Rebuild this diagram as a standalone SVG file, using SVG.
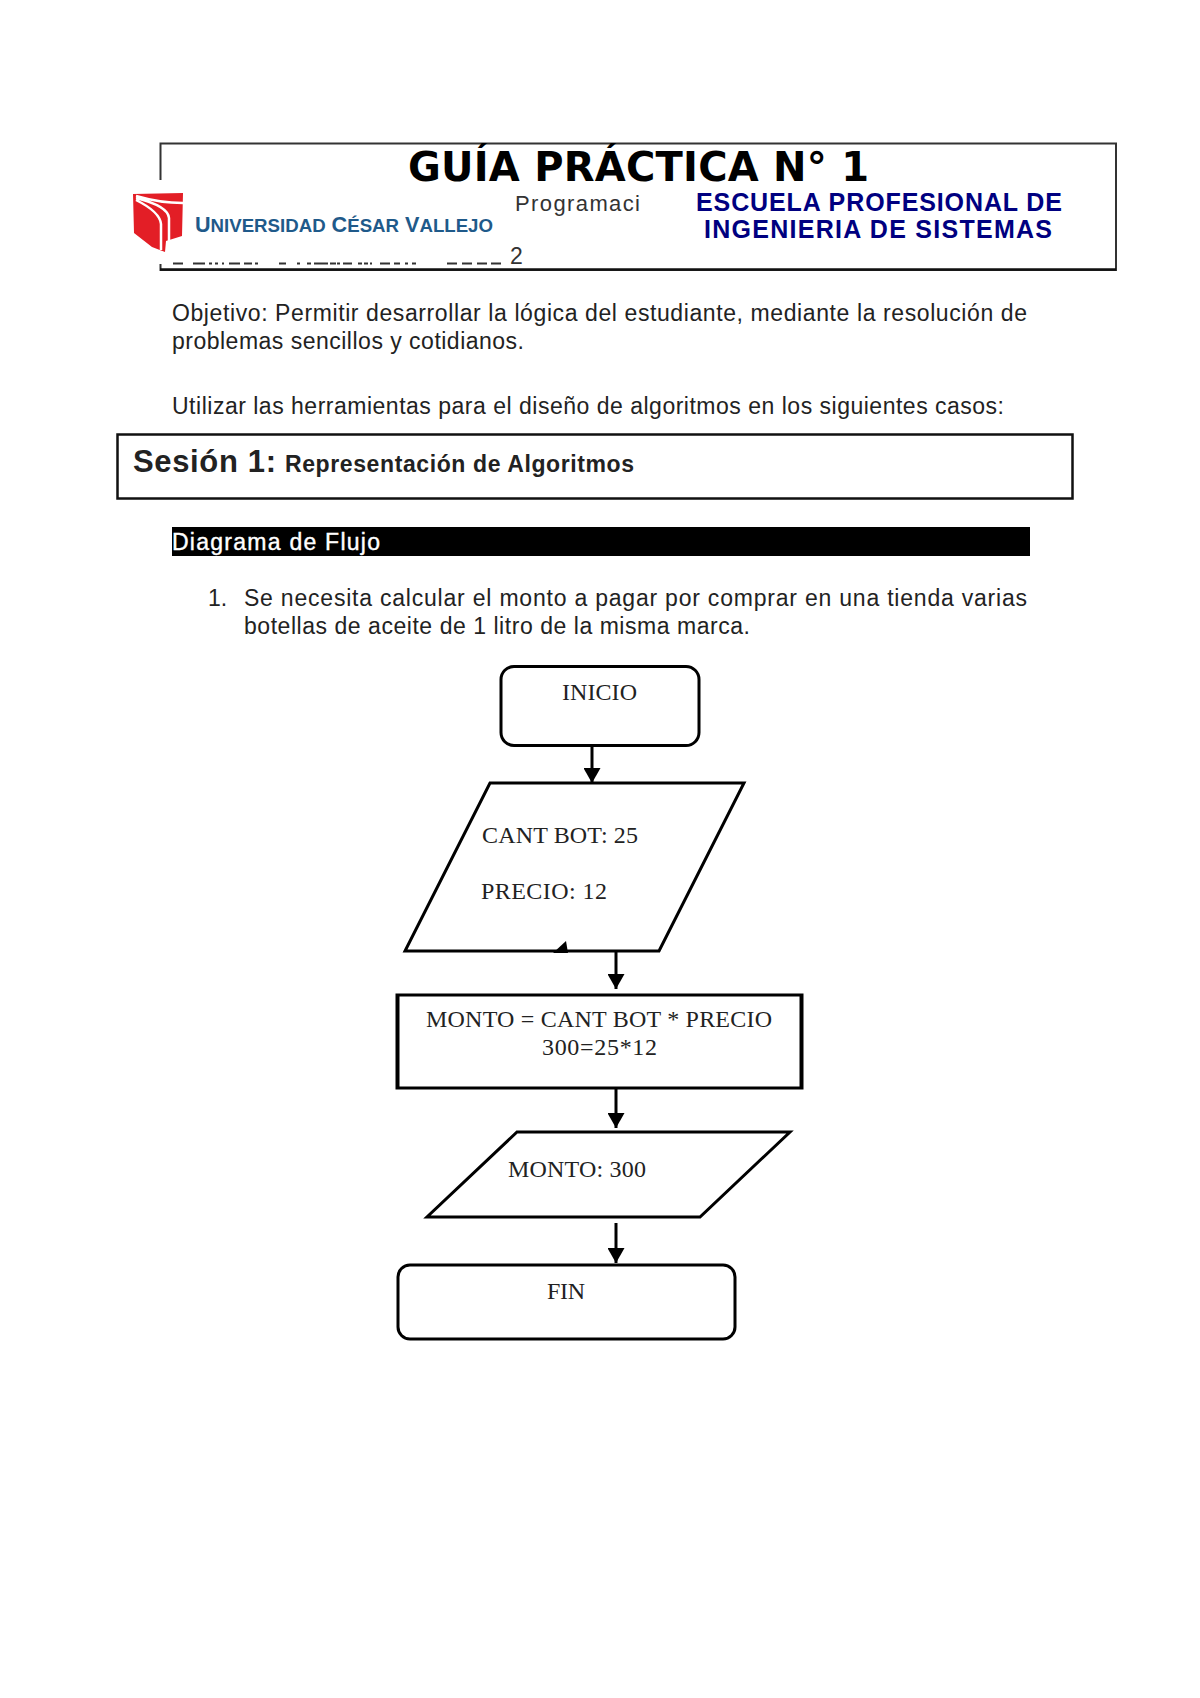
<svg xmlns="http://www.w3.org/2000/svg" width="1200" height="1698" viewBox="0 0 1200 1698">
<style>
.a{font-family:"Liberation Sans",Arial,sans-serif;font-size:23px;fill:#222}
.s{font-family:"Liberation Serif","Times New Roman",serif;font-size:24px;fill:#222}
.n{fill:#fff;stroke:#000;stroke-width:3}
.c{stroke:#000;stroke-width:3;fill:none}
.b{font-family:"Liberation Sans",Arial,sans-serif;font-weight:bold;font-size:25px;fill:#000080}
</style>
<defs><marker id="h" markerUnits="userSpaceOnUse" markerWidth="16" markerHeight="17" refX="15" refY="8.500" orient="auto"><path d="M0 0L15 8.500L0 17Z" fill="#000"/></marker></defs>
<rect width="1200" height="1698" fill="#fff"/>
<g id="header">
<path d="M160.500 180V143.500H1116V270H160.500V264" fill="none" stroke="#333" stroke-width="2"/>
<path d="M160 269.500H1116" stroke="#111" stroke-width="2.500"/>
<text x="408" y="181" textLength="461" style="font-family:'DejaVu Sans',sans-serif;font-weight:bold;font-size:40px;fill:#000">GUÍA PRÁCTICA N° 1</text>
<text x="515" y="211" textLength="125" style="font-family:'Liberation Sans',Arial,sans-serif;font-size:22px;fill:#333">Programaci</text>
<text x="510" y="264" style="font-family:'Liberation Sans',Arial,sans-serif;font-size:23px;fill:#333">2</text>
<path d="M173 263.500H183M193 263.500H205M209 263.500H212M215 263.500H218M222 263.500H224M229 263.500H240M244 263.500H252M255 263.500H258M279 263.500H286M297 263.500H300M307 263.500H311M314 263.500H328M330 263.500H336M337 263.500H340M343 263.500H352M358 263.500H362M364 263.500H368M370 263.500H372M380 263.500H390M394 263.500H400M405 263.500H408M412 263.500H416M447 263.500H457M462 263.500H472M477 263.500H487M491 263.500H501" stroke="#333" stroke-width="2"/>
<text x="696" y="211" textLength="366" class="b">ESCUELA PROFESIONAL DE</text>
<text x="704" y="238" textLength="348" class="b">INGENIERIA DE SISTEMAS</text>
</g>
<g id="logo">
<path d="M133 194L183 193L182 236L166 241L165 252L152 247L134 233Z" fill="#e31e26"/>
<path d="M136 196Q160 203 183 203M136 198Q168 206 169 218L169 247M136 200Q160 212 161 224L161 250" fill="none" stroke="#fff" stroke-width="2.500"/>
<text x="195" y="232" textLength="298" lengthAdjust="spacingAndGlyphs" style="font-family:'Liberation Sans',Arial,sans-serif;font-weight:bold;font-size:22px;fill:#1f5a8a">U<tspan font-size="19">NIVERSIDAD</tspan> C<tspan font-size="19">ÉSAR</tspan> V<tspan font-size="19">ALLEJO</tspan></text>
</g>
<g id="intro">
<text x="172" y="321" textLength="855" class="a">Objetivo: Permitir desarrollar la lógica del estudiante, mediante la resolución de</text>
<text x="172" y="349" textLength="352" class="a">problemas sencillos y cotidianos.</text>
<text x="172" y="414" textLength="832" class="a">Utilizar las herramientas para el diseño de algoritmos en los siguientes casos:</text>
</g>
<g id="sesion">
<rect x="117.500" y="434.500" width="955" height="64" fill="#fff" stroke="#111" stroke-width="2.500"/>
<text x="133" y="472" textLength="143" style="font-family:'Liberation Sans',Arial,sans-serif;font-weight:bold;font-size:31px;fill:#222">Sesión 1:</text>
<text x="285" y="472" textLength="349" style="font-family:'Liberation Sans',Arial,sans-serif;font-weight:bold;font-size:23px;fill:#222">Representación de Algoritmos</text>
</g>
<g id="bar">
<rect x="172" y="527" width="858" height="29" fill="#000"/>
<text x="172" y="550" textLength="208" style="font-family:'Liberation Sans',Arial,sans-serif;font-size:23px;fill:#fff;stroke:#fff;stroke-width:.4">Diagrama de Flujo</text>
</g>
<g id="enunciado">
<text x="208" y="606" class="a">1.</text>
<text x="244" y="606" textLength="783" class="a">Se necesita calcular el monto a pagar por comprar en una tienda varias</text>
<text x="244" y="634" textLength="506" class="a">botellas de aceite de 1 litro de la misma marca.</text>
</g>
<g id="connectors">
<path class="c" d="M592 745V783" marker-end="url(#h)"/>
<path class="c" d="M616 951V989" marker-end="url(#h)"/>
<path class="c" d="M616 1088V1128" marker-end="url(#h)"/>
<path class="c" d="M616 1223V1263" marker-end="url(#h)"/>
</g>
<g id="inicio"><rect class="n" x="501" y="666.500" width="198" height="79" rx="13"/><text class="s" x="562" y="700" textLength="75">INICIO</text></g>
<g id="datos"><path class="n" d="M490 783H744L659 951H405Z"/><text class="s" x="482" y="843" textLength="156">CANT BOT: 25</text><text class="s" x="481" y="899" textLength="126">PRECIO: 12</text>
<path d="M553 953L566 941L568 953Z" fill="#000"/></g>
<g id="proceso"><rect class="n" x="397" y="995" width="405" height="93"/><path d="M398 995V1088M801 995V1088" stroke="#000" stroke-width="3"/><text class="s" x="426" y="1027" textLength="346">MONTO = CANT BOT * PRECIO</text><text class="s" x="542" y="1055" textLength="115">300=25*12</text></g>
<g id="salida"><path class="n" d="M517 1132H790L700 1217H427Z"/><text class="s" x="508" y="1177" textLength="138">MONTO: 300</text></g>
<g id="fin"><rect class="n" x="398" y="1265" width="337" height="74" rx="12"/><text class="s" x="547" y="1299" textLength="38">FIN</text></g>
</svg>
